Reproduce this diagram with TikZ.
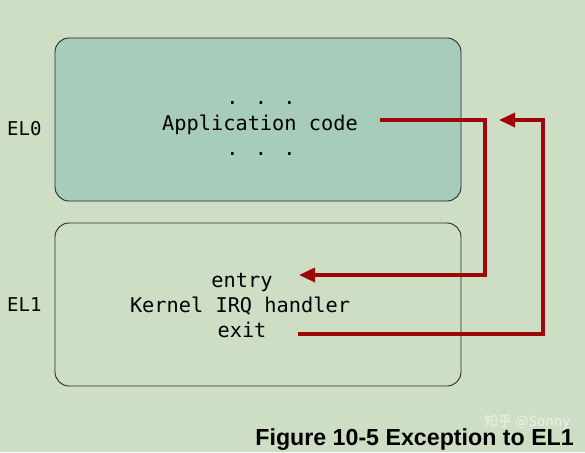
\documentclass[tikz,border=0pt]{standalone}
\usepackage{fontspec}
\setmainfont{Liberation Sans}
\newfontfamily\monof{DejaVu Sans Mono}
\newfontfamily\cjkf{Noto Sans CJK SC}
\usetikzlibrary{arrows.meta}
\definecolor{bgc}{RGB}{206,222,196}
\definecolor{boxc}{RGB}{167,204,186}
\definecolor{arrc}{RGB}{158,6,10}
\begin{document}
\begin{tikzpicture}[x=1pt,y=-1pt,
  levelbox/.style={draw=black!85,line width=0.9pt,rounded corners=14pt},
  codetxt/.style={font=\monof\fontsize{20.3}{24}\selectfont,inner sep=0pt,anchor=base},
  lbl/.style={font=\monof\fontsize{19}{22}\selectfont,inner sep=0pt,anchor=base west},
  arr/.style={draw=arrc,line width=3.3pt,-{Triangle[length=16pt,width=14pt]}}]
\fill[bgc] (0,0) rectangle (585,452);
\useasboundingbox (0,0) rectangle (585,452);
% boxes
\draw[levelbox,fill=boxc] (55,38) rectangle (461,201);
\draw[levelbox] (55,223) rectangle (461,386);
% labels
\node[lbl] (el0) at (7,135) {EL0};
\node[lbl] (el1) at (7,311) {EL1};
% texts
\node[codetxt] (d1) at (261,104) {. . .};
\node[codetxt] (app) at (260,130) {Application code};
\node[codetxt] (d2) at (261,155) {. . .};
\node[codetxt] (entry) at (242,287) {entry};
\node[codetxt] (kern) at (240,312) {Kernel IRQ handler};
\node[codetxt] (exit) at (242,337) {exit};
% connector points
\coordinate (s1) at (380,120);
\coordinate (k1) at (485,275);
\coordinate (t1) at (299,275);
\coordinate (s2) at (298,334);
\coordinate (k2) at (543,120);
\coordinate (t2) at (499,120);
\draw[arr] (s1) -| (k1) -- (t1);
\draw[arr] (s2) -| (k2) -- (t2);
% caption
\node[font=\bfseries\fontsize{23.2}{27}\selectfont,anchor=base east,inner sep=0pt] (cap) at (574,445) {Figure 10-5 Exception to EL1};
\node[font=\cjkf\fontsize{14}{17}\selectfont,text=white,opacity=0.6,anchor=base east,inner sep=0pt] (wm) at (570,426) {知乎 @Sonny};
\end{tikzpicture}
\end{document}
